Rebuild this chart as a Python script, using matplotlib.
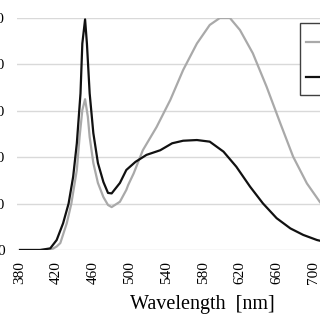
import matplotlib
matplotlib.use("Agg")
import matplotlib.pyplot as plt
from matplotlib.lines import Line2D
from matplotlib.legend_handler import HandlerLine2D

# Data
wl_a = [380, 400, 410, 416, 420, 424, 431, 436, 442, 445, 448, 451, 454, 456, 460, 465,
        471, 476, 480, 489, 496, 498, 504, 514, 529, 544, 558, 573, 587, 598, 609,
        620, 634, 649, 664, 678, 693, 707, 720, 740, 760, 780]
series_a = [0, 0, 0.1, 0.6, 1.5, 3, 11.5, 20, 34.5, 48.7, 60.3, 65, 57.5, 48.7, 37.5, 28.9,
            22.8, 19.4, 18.5, 20.8, 25.9, 28, 33, 43, 53, 64.7, 77.6, 89, 97, 100, 100,
            94.8, 84.8, 70.4, 54.6, 40.2, 28.7, 20.8, 14.5, 8, 4.5, 2.5]

wl_b = [380, 402, 413, 420, 427, 433, 438, 442, 446, 448, 451, 453, 456, 460, 465,
        471, 476, 480, 489, 496, 506, 518, 533, 546, 558, 573, 587, 602, 616,
        631, 645, 660, 675, 689, 704, 720, 740, 760, 780]
series_b = [0, 0, 0.7, 4.3, 11.5, 20, 31.6, 46, 67.5, 89, 99.4, 89, 67.5, 50.4, 37.5,
            29.3, 24.6, 24.4, 28.9, 34.5, 38, 41, 43, 46, 47.1, 47.4, 46.7, 42.4, 35.9,
            27.3, 20.1, 13.7, 9.3, 6.5, 4.3, 2.8, 1.5, 0.8, 0.4]

labels = ["LED A", "LED B"]
x_ticks = [380, 420, 460, 500, 540, 580, 620, 660, 700, 740, 780]
y_ticks = [0, 20, 40, 60, 80, 100]


class LoweredLineHandler(HandlerLine2D):
    """Line legend handle drawn a few points lower inside its row."""
    def create_artists(self, legend, orig_handle, xdescent, ydescent,
                       width, height, fontsize, trans):
        return super().create_artists(legend, orig_handle, xdescent,
                                      ydescent + 6.5, width, height,
                                      fontsize, trans)


W, H = 320, 320
fig = plt.figure(figsize=(W / 100, H / 100), dpi=100)
plt.rcParams['font.family'] = ['Liberation Serif', 'DejaVu Serif']

left_px, right_px = 17.25, 17.25 + 369.4
ax = fig.add_axes([left_px / W, 1 - 250 / H, (right_px - left_px) / W, 232 / H])

ax.plot(wl_a, series_a, color="#a9a9a9", lw=1.6, label=labels[0])
ax.plot(wl_b, series_b, color="#111111", lw=1.6, label=labels[1])

ax.set_xlim(377, 780)
ax.set_ylim(0, 100)
ax.set_xticks(x_ticks)
ax.set_yticks(y_ticks)
ax.set_xticklabels([str(t) for t in x_ticks], rotation=90, fontsize=11)
ax.set_yticklabels([str(t) for t in y_ticks], fontsize=11)
ax.tick_params(axis='both', length=0)
ax.tick_params(axis='x', pad=8)
ax.tick_params(axis='y', pad=9)
ax.grid(axis='y', color="#d9d9d9", lw=1)
ax.set_axisbelow(True)
for s in ax.spines.values():
    s.set_visible(False)
ax.set_xlabel("Wavelength  [nm]", fontsize=14.5, labelpad=8)

leg = fig.legend(loc='upper left', bbox_to_anchor=(300 / W, 1 - 23 / H),
                 bbox_transform=fig.transFigure, borderaxespad=0, fontsize=11,
                 borderpad=0.4, handleheight=2.1, labelspacing=0.68,
                 handlelength=2.5, fancybox=False, framealpha=1,
                 handler_map={Line2D: LoweredLineHandler()})
leg.get_frame().set_edgecolor("#404040")
leg.get_frame().set_linewidth(1.0)

fig.savefig("out.png", dpi=100)
